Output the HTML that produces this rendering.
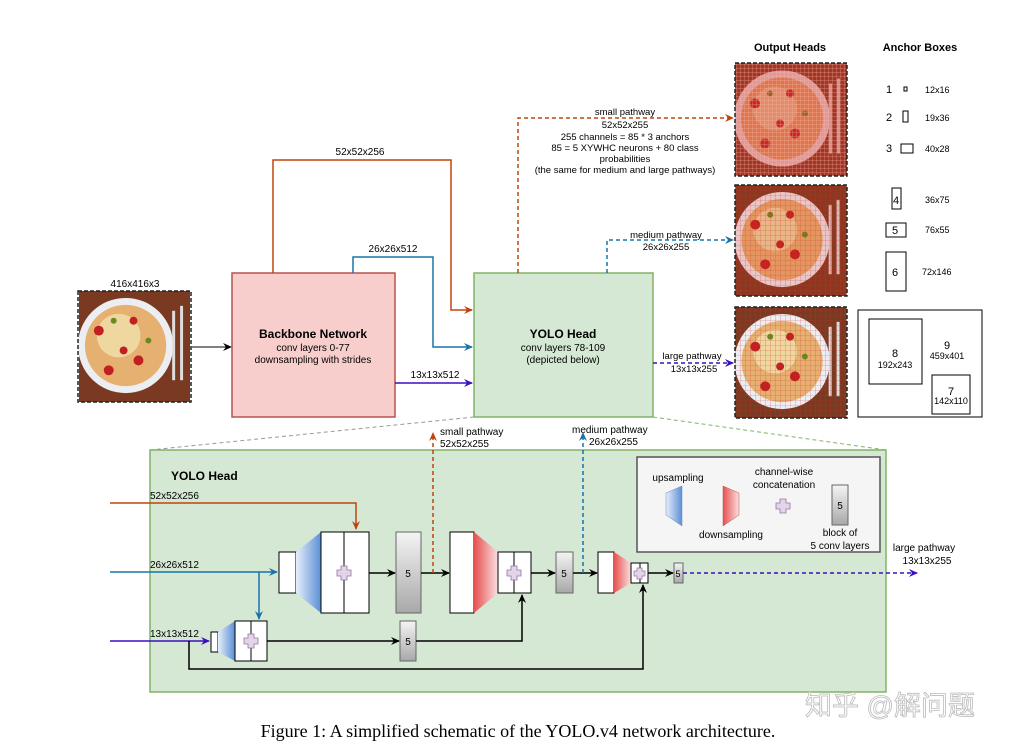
<!DOCTYPE html>
<html><head><meta charset="utf-8"><style>
html,body{margin:0;padding:0;background:#fff;}
svg{display:block;}
text{font-family:"Liberation Sans",Arial,sans-serif;}
</style></head><body>
<svg width="1024" height="747" viewBox="0 0 1024 747" xmlns="http://www.w3.org/2000/svg">
<defs>
<marker id="ak" markerWidth="10" markerHeight="10" refX="8" refY="5" orient="auto" markerUnits="userSpaceOnUse"><path d="M0,1 L9,5 L0,9 L3,5z" fill="#000"/></marker>
<marker id="ar" markerWidth="10" markerHeight="10" refX="8" refY="5" orient="auto" markerUnits="userSpaceOnUse"><path d="M0,1 L9,5 L0,9 L3,5z" fill="#c0430f"/></marker>
<marker id="ab" markerWidth="10" markerHeight="10" refX="8" refY="5" orient="auto" markerUnits="userSpaceOnUse"><path d="M0,1 L9,5 L0,9 L3,5z" fill="#1a73a8"/></marker>
<marker id="ap" markerWidth="10" markerHeight="10" refX="8" refY="5" orient="auto" markerUnits="userSpaceOnUse"><path d="M0,1 L9,5 L0,9 L3,5z" fill="#3a10c0"/></marker>
<linearGradient id="gb" x1="0" x2="1"><stop offset="0" stop-color="#e6eefa"/><stop offset="1" stop-color="#5b8fd6"/></linearGradient>
<linearGradient id="gr" x1="0" x2="1"><stop offset="0" stop-color="#e65050"/><stop offset="1" stop-color="#fbdede"/></linearGradient>
<linearGradient id="gg" x1="0" y1="0" x2="0" y2="1"><stop offset="0" stop-color="#f4f4f4"/><stop offset="1" stop-color="#a8a8a8"/></linearGradient>
<pattern id="grid" width="5" height="5" patternUnits="userSpaceOnUse"><path d="M5,0 L0,0 0,5" fill="none" stroke="#d03030" stroke-width="0.6" opacity="0.7"/></pattern>
<pattern id="gridw" width="4" height="4" patternUnits="userSpaceOnUse"><path d="M4,0 L0,0 0,4" fill="none" stroke="#f4c0c0" stroke-width="0.7" opacity="0.7"/></pattern>
<symbol id="pz" viewBox="0 0 112 112">
<rect width="112" height="112" fill="#7a3a22"/>
<circle cx="47" cy="55" r="48" fill="#eceef2"/>
<circle cx="47" cy="55" r="41" fill="#e6b070"/>
<circle cx="40" cy="45" r="22" fill="#eed8a0"/>
<circle cx="20" cy="40" r="5" fill="#c02020"/><circle cx="55" cy="30" r="4" fill="#c02020"/>
<circle cx="60" cy="70" r="5" fill="#c02020"/><circle cx="30" cy="80" r="5" fill="#c02020"/>
<circle cx="45" cy="60" r="4" fill="#c02020"/><circle cx="70" cy="50" r="3" fill="#6a8a20"/>
<circle cx="35" cy="30" r="3" fill="#6a8a20"/>
<rect x="94" y="20" width="3" height="70" fill="#ddd"/><rect x="102" y="15" width="3" height="75" fill="#ddd"/>
</symbol>
</defs>

<!-- input pizza -->
<text x="135" y="287" font-size="10" text-anchor="middle">416x416x3</text>
<use href="#pz" x="78" y="291" width="113" height="111"/>
<rect x="78" y="291" width="113" height="111" fill="none" stroke="#222" stroke-width="1.5" stroke-dasharray="4,2"/>
<line x1="192" y1="347" x2="231" y2="347" stroke="#000" marker-end="url(#ak)"/>

<!-- backbone -->
<rect x="232" y="273" width="163" height="144" fill="#f8cecc" stroke="#b85450" stroke-width="1.5"/>
<text x="313" y="338" font-size="12" font-weight="bold" text-anchor="middle">Backbone Network</text>
<text x="313" y="351" font-size="10" text-anchor="middle">conv layers 0-77</text>
<text x="313" y="363" font-size="10" text-anchor="middle">downsampling with strides</text>

<!-- yolo head top -->
<rect x="474" y="273" width="179" height="144" fill="#d5e8d4" stroke="#82b366" stroke-width="1.5"/>
<text x="563" y="338" font-size="12" font-weight="bold" text-anchor="middle">YOLO Head</text>
<text x="563" y="351" font-size="10" text-anchor="middle">conv layers 78-109</text>
<text x="563" y="363" font-size="10" text-anchor="middle">(depicted below)</text>

<!-- connectors top -->
<polyline points="273,273 273,160 451,160 451,310 472,310" fill="none" stroke="#c0430f" stroke-width="1.5" marker-end="url(#ar)"/>
<text x="360" y="155" font-size="10" text-anchor="middle">52x52x256</text>
<polyline points="353,273 353,257 433,257 433,347 472,347" fill="none" stroke="#1a73a8" stroke-width="1.5" marker-end="url(#ab)"/>
<text x="393" y="252" font-size="10" text-anchor="middle">26x26x512</text>
<line x1="395" y1="383" x2="472" y2="383" stroke="#3a10c0" stroke-width="1.5" marker-end="url(#ap)"/>
<text x="435" y="378" font-size="10" text-anchor="middle">13x13x512</text>

<polyline points="518,273 518,118 733,118" fill="none" stroke="#c0430f" stroke-width="1.5" stroke-dasharray="4,3" marker-end="url(#ar)"/>
<g font-size="9.5" text-anchor="middle">
<text x="625" y="115">small pathway</text>
<text x="625" y="128">52x52x255</text>
<text x="625" y="140">255 channels = 85 * 3 anchors</text>
<text x="625" y="151">85 = 5 XYWHC neurons + 80 class</text>
<text x="625" y="162">probabilities</text>
<text x="625" y="173">(the same for medium and large pathways)</text>
<text x="666" y="238">medium pathway</text>
<text x="666" y="250">26x26x255</text>
<text x="692" y="359">large pathway</text>
<text x="694" y="372">13x13x255</text>
</g>
<polyline points="607,273 607,240 733,240" fill="none" stroke="#1a73a8" stroke-width="1.5" stroke-dasharray="4,3" marker-end="url(#ab)"/>
<line x1="653" y1="363" x2="733" y2="363" stroke="#3a10c0" stroke-width="1.5" stroke-dasharray="4,3" marker-end="url(#ap)"/>

<!-- output heads -->
<text x="790" y="51" font-size="11" font-weight="bold" text-anchor="middle">Output Heads</text>
<use href="#pz" x="735" y="63" width="112" height="113"/>
<rect x="735" y="63" width="112" height="113" fill="#d83020" opacity="0.45"/>
<rect x="735" y="63" width="112" height="113" fill="url(#gridw)"/>
<rect x="735" y="63" width="112" height="113" fill="none" stroke="#222" stroke-width="1.5" stroke-dasharray="4,2"/>
<use href="#pz" x="735" y="185" width="112" height="111"/>
<rect x="735" y="185" width="112" height="111" fill="#d83020" opacity="0.2"/>
<rect x="735" y="185" width="112" height="111" fill="url(#grid)"/>
<rect x="735" y="185" width="112" height="111" fill="none" stroke="#222" stroke-width="1.5" stroke-dasharray="4,2"/>
<use href="#pz" x="735" y="307" width="112" height="111"/>
<rect x="735" y="307" width="112" height="111" fill="url(#grid)"/>
<rect x="735" y="307" width="112" height="111" fill="none" stroke="#222" stroke-width="1.5" stroke-dasharray="4,2"/>

<!-- anchor boxes -->
<text x="920" y="51" font-size="11" font-weight="bold" text-anchor="middle">Anchor Boxes</text>
<g font-size="10" fill="#000">
<text x="886" y="93" font-size="11">1</text><rect x="904" y="87" width="3" height="4" fill="none" stroke="#000"/><text x="925" y="93" font-size="9">12x16</text>
<text x="886" y="121" font-size="11">2</text><rect x="903" y="111" width="5" height="11" fill="none" stroke="#000"/><text x="925" y="121" font-size="9">19x36</text>
<text x="886" y="152" font-size="11">3</text><rect x="901" y="144" width="12" height="9" fill="none" stroke="#000"/><text x="925" y="152" font-size="9">40x28</text>
<rect x="892" y="188" width="9" height="21" fill="none" stroke="#000"/><text x="893" y="204" font-size="11">4</text><text x="925" y="203" font-size="9">36x75</text>
<rect x="886" y="223" width="20" height="14" fill="none" stroke="#000"/><text x="892" y="234" font-size="11">5</text><text x="925" y="233" font-size="9">76x55</text>
<rect x="886" y="252" width="20" height="39" fill="none" stroke="#000"/><text x="892" y="276" font-size="11">6</text><text x="922" y="275" font-size="9">72x146</text>
<rect x="858" y="310" width="124" height="107" fill="none" stroke="#000"/>
<rect x="869" y="319" width="53" height="65" fill="none" stroke="#000"/>
<text x="895" y="357" font-size="11" text-anchor="middle">8</text><text x="895" y="368" font-size="9" text-anchor="middle">192x243</text>
<text x="947" y="349" font-size="11" text-anchor="middle">9</text><text x="947" y="359" font-size="9" text-anchor="middle">459x401</text>
<rect x="932" y="375" width="38" height="39" fill="none" stroke="#000"/>
<text x="951" y="395" font-size="11" text-anchor="middle">7</text><text x="951" y="404" font-size="9" text-anchor="middle">142x110</text>
</g>

<!-- perspective dashed -->
<line x1="474" y1="417" x2="150" y2="450" stroke="#999" stroke-dasharray="4,3"/>
<line x1="653" y1="417" x2="886" y2="450" stroke="#82b366" stroke-dasharray="4,3"/>

<!-- bottom green box -->
<rect x="150" y="450" width="736" height="242" fill="#d5e8d4" stroke="#82b366" stroke-width="1.5"/>
<text x="171" y="480" font-size="12" font-weight="bold">YOLO Head</text>

<!-- legend -->
<rect x="637" y="457" width="243" height="95" fill="#f5f5f5" stroke="#555" stroke-width="1.5"/>
<g font-size="10" text-anchor="middle">
<text x="678" y="481">upsampling</text>
<text x="731" y="538">downsampling</text>
<text x="784" y="475">channel-wise</text>
<text x="784" y="488">concatenation</text>
<text x="840" y="536">block of</text>
<text x="840" y="549">5 conv layers</text>
</g>
<path d="M666,493 L682,486 L682,526 L666,515z" fill="url(#gb)" stroke="#6c8ebf" stroke-width="0.5"/>
<path d="M723,486 L739,493 L739,515 L723,526z" fill="url(#gr)" stroke="#b85450" stroke-width="0.5"/>
<path d="M780,499h6v4h4v6h-4v4h-6v-4h-4v-6h4z" fill="#e1d5e7" stroke="#9673a6" stroke-width="0.8"/>
<rect x="832" y="485" width="16" height="40" fill="url(#gg)" stroke="#666"/>
<text x="840" y="509" font-size="10" text-anchor="middle">5</text>

<!-- input lines -->
<polyline points="110,503 356,503 356,529" fill="none" stroke="#c0430f" stroke-width="1.5" marker-end="url(#ar)"/>
<text x="150" y="499" font-size="10">52x52x256</text>
<line x1="110" y1="572" x2="277" y2="572" stroke="#1a73a8" stroke-width="1.5" marker-end="url(#ab)"/>
<line x1="259" y1="572" x2="259" y2="619" stroke="#1a73a8" stroke-width="1.5" marker-end="url(#ab)"/>
<text x="150" y="568" font-size="10">26x26x512</text>
<line x1="110" y1="641" x2="209" y2="641" stroke="#3a10c0" stroke-width="1.5" marker-end="url(#ap)"/>
<text x="150" y="637" font-size="10">13x13x512</text>

<!-- upsample block 1 -->
<rect x="279" y="552" width="17" height="41" fill="#fff" stroke="#000"/>
<path d="M296,552 L321,532 L321,613 L296,593z" fill="url(#gb)"/>
<rect x="321" y="532" width="48" height="81" fill="#fff" stroke="#000"/>
<line x1="344" y1="532" x2="344" y2="613" stroke="#000"/>
<path d="M341,566h6v4h4v6h-4v4h-6v-4h-4v-6h4z" fill="#e1d5e7" stroke="#9673a6" stroke-width="0.8"/>
<line x1="369" y1="573" x2="395" y2="573" stroke="#000" stroke-width="1.5" marker-end="url(#ak)"/>
<rect x="396" y="532" width="25" height="81" fill="url(#gg)" stroke="#666"/>
<text x="408" y="577" font-size="10" text-anchor="middle">5</text>
<line x1="421" y1="573" x2="449" y2="573" stroke="#000" stroke-width="1.5" marker-end="url(#ak)"/>
<line x1="433" y1="573" x2="433" y2="433" stroke="#c0430f" stroke-width="1.5" stroke-dasharray="4,3" marker-end="url(#ar)"/>
<text x="440" y="435" font-size="10">small pathway</text>
<text x="440" y="447" font-size="10">52x52x255</text>

<!-- downsample 1 -->
<rect x="450" y="532" width="24" height="81" fill="#fff" stroke="#000"/>
<path d="M474,532 L498,552 L498,593 L474,613z" fill="url(#gr)"/>
<rect x="498" y="552" width="33" height="41" fill="#fff" stroke="#000"/>
<line x1="514" y1="552" x2="514" y2="593" stroke="#000"/>
<path d="M511,566h6v4h4v6h-4v4h-6v-4h-4v-6h4z" fill="#e1d5e7" stroke="#9673a6" stroke-width="0.8"/>
<line x1="531" y1="573" x2="555" y2="573" stroke="#000" stroke-width="1.5" marker-end="url(#ak)"/>
<rect x="556" y="552" width="17" height="41" fill="url(#gg)" stroke="#666"/>
<text x="564" y="577" font-size="10" text-anchor="middle">5</text>
<line x1="573" y1="573" x2="597" y2="573" stroke="#000" stroke-width="1.5" marker-end="url(#ak)"/>
<line x1="583" y1="573" x2="583" y2="433" stroke="#1a73a8" stroke-width="1.5" stroke-dasharray="4,3" marker-end="url(#ab)"/>
<text x="572" y="433" font-size="10">medium pathway</text>
<text x="589" y="445" font-size="10">26x26x255</text>

<!-- downsample 2 -->
<rect x="598" y="552" width="16" height="41" fill="#fff" stroke="#000"/>
<path d="M614,552 L631,563 L631,583 L614,593z" fill="url(#gr)"/>
<rect x="631" y="563" width="17" height="20" fill="#fff" stroke="#000"/>
<line x1="640" y1="563" x2="640" y2="583" stroke="#000"/>
<path d="M637,568h5v3h3v5h-3v3h-5v-3h-3v-5h3z" fill="#e1d5e7" stroke="#9673a6" stroke-width="0.7"/>
<line x1="648" y1="573" x2="673" y2="573" stroke="#000" stroke-width="1.5" marker-end="url(#ak)"/>
<rect x="674" y="563" width="9" height="20" fill="url(#gg)" stroke="#666"/>
<text x="678" y="577" font-size="9" text-anchor="middle">5</text>
<line x1="683" y1="573" x2="917" y2="573" stroke="#3a10c0" stroke-width="1.5" stroke-dasharray="4,3" marker-end="url(#ap)"/>
<text x="924" y="551" font-size="10" text-anchor="middle">large pathway</text>
<text x="927" y="564" font-size="10" text-anchor="middle">13x13x255</text>

<!-- small upsample -->
<rect x="211" y="632" width="7" height="20" fill="#fff" stroke="#000"/>
<path d="M218,632 L235,621 L235,661 L218,652z" fill="url(#gb)"/>
<rect x="235" y="621" width="32" height="40" fill="#fff" stroke="#000"/>
<line x1="251" y1="621" x2="251" y2="661" stroke="#000"/>
<path d="M248,634h6v4h4v6h-4v4h-6v-4h-4v-6h4z" fill="#e1d5e7" stroke="#9673a6" stroke-width="0.8"/>
<line x1="267" y1="641" x2="399" y2="641" stroke="#000" stroke-width="1.5" marker-end="url(#ak)"/>
<rect x="400" y="621" width="16" height="40" fill="url(#gg)" stroke="#666"/>
<text x="408" y="645" font-size="10" text-anchor="middle">5</text>
<polyline points="416,641 522,641 522,595" fill="none" stroke="#000" stroke-width="1.5" marker-end="url(#ak)"/>
<polyline points="189,641 189,669 643,669 643,585" fill="none" stroke="#000" stroke-width="1.5" marker-end="url(#ak)"/>

<!-- caption -->
<text x="518" y="737" font-size="18" text-anchor="middle" font-family="Liberation Serif, serif" style="font-family:'Liberation Serif',serif">Figure 1: A simplified schematic of the YOLO.v4 network architecture.</text>
<text x="805" y="715" font-size="27" fill="#fff" stroke="#bbb" stroke-width="0.8" style="font-family:'Liberation Sans','Noto Sans CJK SC',sans-serif">知乎 @解问题</text>
</svg>
</body></html>
